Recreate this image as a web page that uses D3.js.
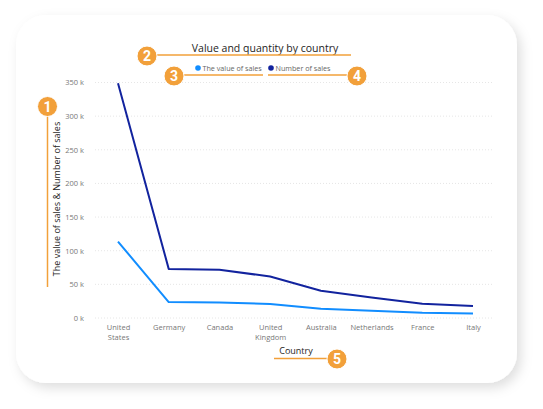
<!doctype html>
<html>
<head>
  <script src="https://cdnjs.cloudflare.com/ajax/libs/d3/7.8.5/d3.min.js"></script>
  <style>
    body { margin: 0; background: #fff; }
    svg { display: block; font-family: "Open Sans", sans-serif; }
  </style>
</head>
<body>
  <svg id="chart" width="543" height="409"></svg>
<script>
  // data (thousands)
  var countries = ["United States", "Germany", "Canada", "United Kingdom", "Australia", "Netherlands", "France", "Italy"];
  var salesValue = [113.6, 23.7, 23.2, 20.8, 13.8, 10.8, 7.9, 6.8];
  var salesCount = [349, 73, 71.6, 61.7, 40.5, 30.6, 21.2, 17.8];
  var yTicks = [0, 50, 100, 150, 200, 250, 300, 350];

  var seriesNames = ["The value of sales", "Number of sales"];
  var seriesColors = ["#118dff", "#12239e"];
  var orange = "#f2a03a";

  var svg = d3.select("#chart");

  // card with soft shadow
  var defs = svg.append("defs");
  var f = defs.append("filter").attr("id", "shadow")
    .attr("x", "-10%").attr("y", "-10%").attr("width", "125%").attr("height", "130%");
  f.append("feDropShadow").attr("dx", 4).attr("dy", 5).attr("stdDeviation", 6)
    .attr("flood-color", "#000").attr("flood-opacity", 0.13);

  svg.append("rect")
    .attr("x", 16).attr("y", 15).attr("width", 501).attr("height", 368)
    .attr("rx", 30).attr("fill", "#fff").attr("filter", "url(#shadow)");

  var x = d3.scalePoint().domain(countries).range([118, 473]);
  var y = d3.scaleLinear().domain([0, 350]).range([318, 82.5]);

  // gridlines
  svg.append("g").selectAll("line").data(yTicks).join("line")
    .attr("x1", 95).attr("x2", 492)
    .attr("y1", d => y(d)).attr("y2", d => y(d))
    .attr("stroke", "#e6e6e6").attr("stroke-width", 1)
    .attr("stroke-dasharray", "1,2");

  // y axis
  var yAxis = svg.append("g").attr("transform", "translate(84,0)")
    .call(d3.axisLeft(y).tickValues(yTicks).tickSize(0).tickPadding(0).tickFormat(d => d + " k"));
  yAxis.select(".domain").remove();
  yAxis.selectAll("text").attr("fill", "#777").attr("font-size", 7.5).attr("font-family", "Open Sans");

  // x axis
  var xAxis = svg.append("g").attr("transform", "translate(0,325)")
    .call(d3.axisBottom(x).tickSize(0).tickPadding(0));
  xAxis.select(".domain").remove();
  xAxis.selectAll(".tick text").each(function(d) {
    var t = d3.select(this).text("").attr("fill", "#777").attr("font-size", 7.5)
      .attr("font-family", "Open Sans").attr("dy", "0.71em");
    var parts = d.split(" ");
    if (parts.length > 1 && d.length > 9) {
      t.append("tspan").attr("x", 0).text(parts[0]);
      t.append("tspan").attr("x", 0).attr("dy", 10).text(parts.slice(1).join(" "));
    } else {
      t.text(d);
    }
  });

  // lines
  var line = d3.line().x((d, i) => x(countries[i])).y(d => y(d));
  [salesValue, salesCount].forEach(function(s, i) {
    svg.append("path").datum(s)
      .attr("d", line).attr("fill", "none")
      .attr("stroke", seriesColors[i]).attr("stroke-width", 2)
      .attr("stroke-linejoin", "round");
  });

  // title
  svg.append("text").attr("x", 265).attr("y", 52).attr("text-anchor", "middle")
    .attr("font-size", 10.5).attr("fill", "#252423").text("Value and quantity by country");

  // legend
  var legendX = [198, 271];
  seriesNames.forEach(function(n, i) {
    svg.append("circle").attr("cx", legendX[i]).attr("cy", 68).attr("r", 2.8).attr("fill", seriesColors[i]);
    svg.append("text").attr("x", legendX[i] + 4.5).attr("y", 70.5)
      .attr("font-size", 7.2).attr("fill", "#666").text(n);
  });

  // axis titles
  svg.append("text").attr("transform", "translate(60,199) rotate(-90)")
    .attr("text-anchor", "middle").attr("font-size", 9).attr("fill", "#252423")
    .text("The value of sales & Number of sales");
  svg.append("text").attr("x", 296).attr("y", 354).attr("text-anchor", "middle")
    .attr("font-size", 9).attr("fill", "#252423").text("Country");

  // numbered call-outs
  var callouts = [
    { n: 1, cx: 47.5, cy: 106.5, x1: 47.5, y1: 106.5, x2: 47.5, y2: 287 },
    { n: 2, cx: 147, cy: 56, x1: 147, y1: 55, x2: 351, y2: 55 },
    { n: 3, cx: 174, cy: 76, x1: 174, y1: 75, x2: 263, y2: 75 },
    { n: 4, cx: 357, cy: 76, x1: 268, y1: 75, x2: 357, y2: 75 },
    { n: 5, cx: 337, cy: 359, x1: 274, y1: 358.5, x2: 337, y2: 358.5 }
  ];
  var co = svg.append("g");
  co.selectAll("line").data(callouts).join("line")
    .attr("x1", d => d.x1).attr("y1", d => d.y1).attr("x2", d => d.x2).attr("y2", d => d.y2)
    .attr("stroke", orange).attr("stroke-width", 1.5);
  co.selectAll("circle").data(callouts).join("circle")
    .attr("cx", d => d.cx).attr("cy", d => d.cy).attr("r", 10)
    .attr("fill", orange).attr("stroke", "#fff").attr("stroke-width", 1);
  co.selectAll("text").data(callouts).join("text")
    .attr("x", d => d.cx).attr("y", d => d.cy + 5).attr("text-anchor", "middle")
    .attr("font-size", 14).attr("font-weight", "bold").attr("fill", "#fff")
    .attr("font-family", "Roboto").text(d => d.n);
</script>
</body>
</html>
